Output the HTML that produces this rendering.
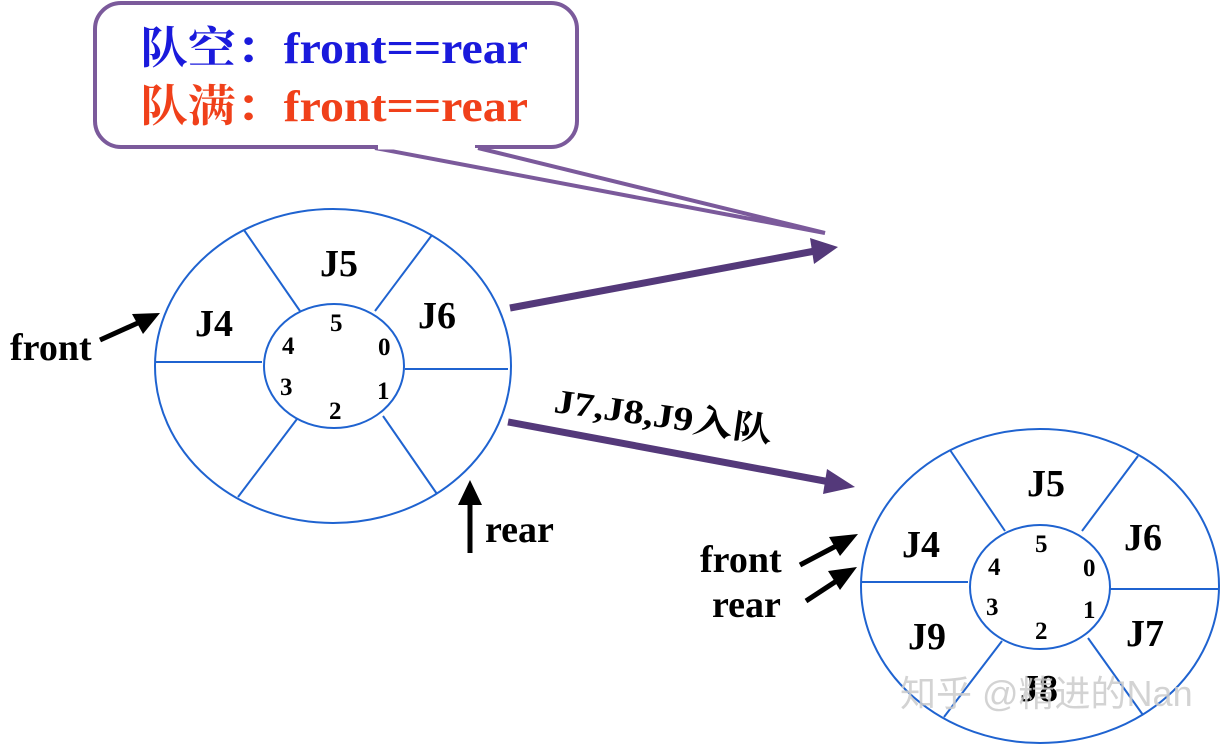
<!DOCTYPE html>
<html><head><meta charset="utf-8"><style>
body{margin:0;background:#fff;width:1221px;height:745px;overflow:hidden}
svg text{font-family:"Liberation Serif","Noto Serif CJK SC",serif;font-weight:bold}
</style></head><body>
<svg width="1221" height="745" viewBox="0 0 1221 745">
<!-- callout -->
<rect x="95" y="3" width="482" height="144" rx="26" fill="#fff" stroke="#7b5a9b" stroke-width="4"/>
<path d="M375,148 L825,233 L478,148" fill="#fff" stroke="#7b5a9b" stroke-width="4"/>
<line x1="378" y1="147" x2="475" y2="147" stroke="#fff" stroke-width="5"/>
<text x="140" y="63" font-size="44" fill="#1a1adc" textLength="388" lengthAdjust="spacingAndGlyphs">队空：front==rear</text>
<text x="140" y="121" font-size="44" fill="#f0401a" textLength="388" lengthAdjust="spacingAndGlyphs">队满：front==rear</text>
<!-- purple arrows -->
<line x1="510" y1="308" x2="815" y2="251" stroke="#54397a" stroke-width="7"/>
<path d="M838,247 L810,238 L814,264z" fill="#54397a"/>
<line x1="508" y1="422" x2="830" y2="482" stroke="#54397a" stroke-width="7"/>
<path d="M855,487 L827,469 L823,494z" fill="#54397a"/>
<text x="553" y="412" font-size="34" fill="#000" transform="rotate(8 553 412)" textLength="220" lengthAdjust="spacingAndGlyphs">J7,J8,J9入队</text>
<!-- left ring -->
<g fill="none" stroke="#1f63d0" stroke-width="2">
<ellipse cx="333" cy="366" rx="178" ry="157"/>
<ellipse cx="334" cy="366" rx="70" ry="62"/>
<line x1="244" y1="230" x2="300" y2="311"/><line x1="432" y1="235" x2="375" y2="311"/>
<line x1="155" y1="362" x2="262" y2="362"/><line x1="405" y1="369" x2="508" y2="369"/>
<line x1="297" y1="419" x2="238" y2="497"/><line x1="383" y1="416" x2="437" y2="494"/>
</g>
<g font-size="38" fill="#000"><text x="320" y="276">J5</text><text x="195" y="336">J4</text><text x="418" y="328">J6</text></g>
<g font-size="25" fill="#000"><text x="330" y="331">5</text><text x="282" y="354">4</text><text x="378" y="355">0</text><text x="280" y="395">3</text><text x="377" y="399">1</text><text x="329" y="419">2</text></g>
<text x="10" y="360" font-size="38">front</text>
<line x1="100" y1="340" x2="140" y2="322" stroke="#000" stroke-width="5"/>
<path d="M160,313 L132,314 L143,334z" fill="#000"/>
<line x1="470" y1="553" x2="470" y2="500" stroke="#000" stroke-width="5"/>
<path d="M470,480 L458,505 L482,505z" fill="#000"/>
<text x="485" y="542" font-size="38">rear</text>
<!-- right ring -->
<g fill="none" stroke="#1f63d0" stroke-width="2">
<ellipse cx="1040" cy="586" rx="179" ry="157"/>
<ellipse cx="1040" cy="587" rx="70" ry="62"/>
<line x1="950" y1="450" x2="1005" y2="531"/><line x1="1138" y1="456" x2="1082" y2="531"/>
<line x1="861" y1="582" x2="968" y2="582"/><line x1="1110" y1="589" x2="1219" y2="589"/>
<line x1="1002" y1="641" x2="944" y2="717"/><line x1="1088" y1="638" x2="1143" y2="715"/>
</g>
<g font-size="38" fill="#000"><text x="1027" y="496">J5</text><text x="902" y="557">J4</text><text x="1124" y="550">J6</text><text x="908" y="649">J9</text><text x="1126" y="646">J7</text><text x="1020" y="701">J8</text></g>
<g font-size="25" fill="#000"><text x="1035" y="552">5</text><text x="988" y="575">4</text><text x="1083" y="576">0</text><text x="986" y="615">3</text><text x="1083" y="618">1</text><text x="1035" y="639">2</text></g>
<text x="700" y="572" font-size="38">front</text>
<text x="712" y="617" font-size="38">rear</text>
<line x1="800" y1="565" x2="838" y2="545" stroke="#000" stroke-width="5"/>
<path d="M858,534 L829,537 L840,556z" fill="#000"/>
<line x1="806" y1="601" x2="838" y2="580" stroke="#000" stroke-width="5"/>
<path d="M857,567 L828,571 L840,590z" fill="#000"/>
<text x="900" y="706" font-size="36" fill="#ccc" style="font-family:'Liberation Sans','Noto Sans CJK SC',sans-serif;font-weight:normal" opacity="0.85">知乎 @精进的Nan</text>
</svg>
</body></html>
